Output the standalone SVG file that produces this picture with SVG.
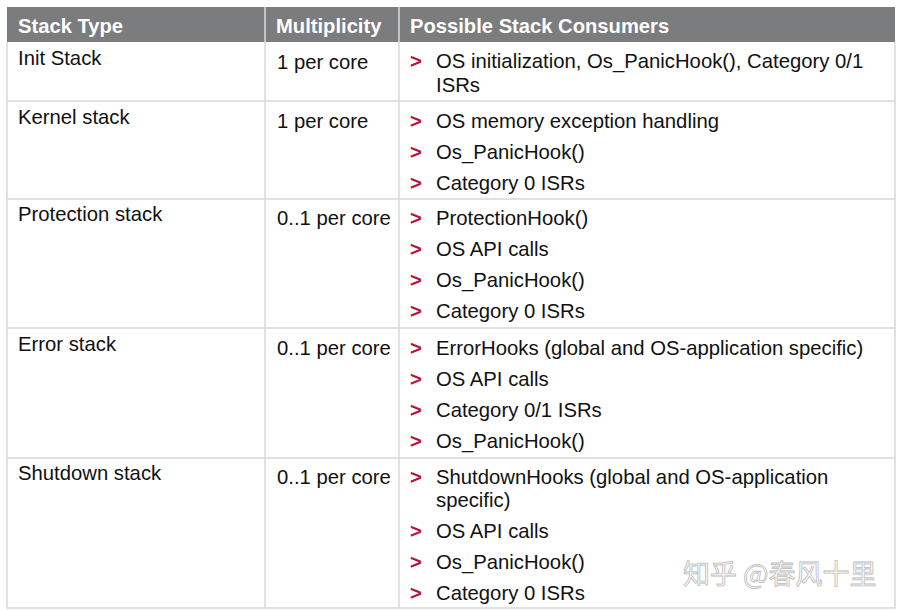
<svg xmlns="http://www.w3.org/2000/svg" width="900" height="611" viewBox="0 0 900 611">
<style>
text{font-family:"Liberation Sans",Arial,sans-serif;font-size:20.3px;fill:#111}
.h{font-weight:bold;fill:#fff;font-size:20.2px}
.b{fill:#b5123f;font-weight:bold}
.g{stroke:#d8d8d8;stroke-width:1.5;fill:none}
.wm{font-family:"Noto Sans CJK SC",sans-serif;font-size:27px;fill:#fff;stroke:#bbb;stroke-width:0.8}
</style>
<rect width="900" height="611" fill="#fff"/>
<g id="header">
<rect x="7" y="7" width="888" height="35" fill="#7b7c7e"/>
<line x1="265" y1="7" x2="265" y2="42" stroke="#ddd" stroke-width="1.5"/>
<line x1="399" y1="7" x2="399" y2="42" stroke="#ddd" stroke-width="1.5"/>
<text class="h" x="18" y="33">Stack Type</text>
<text class="h" x="276" y="33">Multiplicity</text>
<text class="h" x="410" y="33">Possible Stack Consumers</text>
</g>
<g id="grid">
<path class="g" d="M7 42V608H895V42M265 42V608M399 42V608M7 101H895M7 199H895M7 328H895M7 458H895"/>
</g>
<g id="row-init">
<text x="18" y="65">Init Stack</text><text x="277" y="69">1 per core</text>
<text class="b" x="410" y="68">&gt;</text><text x="436" y="68">OS initialization, Os_PanicHook(), Category 0/1</text><text x="436" y="92">ISRs</text>
</g>
<g id="row-kernel">
<text x="18" y="124">Kernel stack</text><text x="277" y="128">1 per core</text>
<text class="b" x="410" y="128">&gt;</text><text x="436" y="128">OS memory exception handling</text>
<text class="b" x="410" y="159">&gt;</text><text x="436" y="159">Os_PanicHook()</text>
<text class="b" x="410" y="190">&gt;</text><text x="436" y="190">Category 0 ISRs</text>
</g>
<g id="row-protection">
<text x="18" y="221">Protection stack</text><text x="277" y="225">0..1 per core</text>
<text class="b" x="410" y="225">&gt;</text><text x="436" y="225">ProtectionHook()</text>
<text class="b" x="410" y="256">&gt;</text><text x="436" y="256">OS API calls</text>
<text class="b" x="410" y="287">&gt;</text><text x="436" y="287">Os_PanicHook()</text>
<text class="b" x="410" y="318">&gt;</text><text x="436" y="318">Category 0 ISRs</text>
</g>
<g id="row-error">
<text x="18" y="351">Error stack</text><text x="277" y="355">0..1 per core</text>
<text class="b" x="410" y="355">&gt;</text><text x="436" y="355">ErrorHooks (global and OS-application specific)</text>
<text class="b" x="410" y="386">&gt;</text><text x="436" y="386">OS API calls</text>
<text class="b" x="410" y="417">&gt;</text><text x="436" y="417">Category 0/1 ISRs</text>
<text class="b" x="410" y="448">&gt;</text><text x="436" y="448">Os_PanicHook()</text>
</g>
<g id="row-shutdown">
<text x="18" y="480">Shutdown stack</text><text x="277" y="484">0..1 per core</text>
<text class="b" x="410" y="484">&gt;</text><text x="436" y="484">ShutdownHooks (global and OS-application</text><text x="436" y="507">specific)</text>
<text class="b" x="410" y="538">&gt;</text><text x="436" y="538">OS API calls</text>
<text class="b" x="410" y="569">&gt;</text><text x="436" y="569">Os_PanicHook()</text>
<text class="b" x="410" y="600">&gt;</text><text x="436" y="600">Category 0 ISRs</text>
</g>
<text class="wm" x="683" y="584">知乎 @春风十里</text>
</svg>
